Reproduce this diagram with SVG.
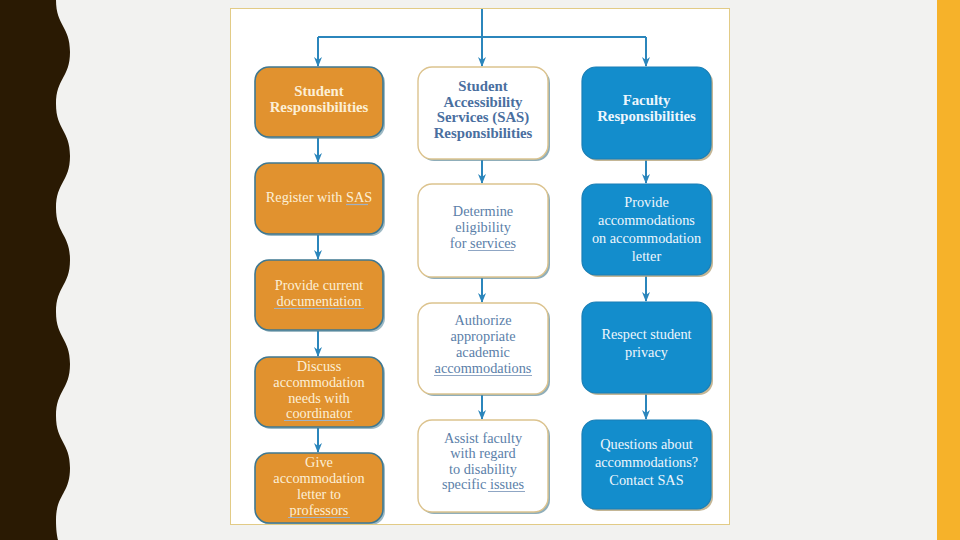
<svg xmlns="http://www.w3.org/2000/svg" width="960" height="540" viewBox="0 0 960 540">
<defs>
<style>
.t{font-family:"Liberation Serif","Times New Roman",serif;font-size:14.3px;text-anchor:middle}
.b{font-weight:bold;font-size:14.8px}
.or{fill:#e1922f;stroke:#3f7891;stroke-width:1.6}
.wh{fill:#ffffff;stroke:#dcc38e;stroke-width:1.4}
.bl{fill:#138dcc;stroke:#1a7fb6;stroke-width:1.2}
.sh1{fill:#4d7f93;opacity:.55}
.sh2{fill:#5f8c9c;opacity:.7}
.sh3{fill:#b5a47a;opacity:.8}
.tor{fill:#fcefd6}
.twh{fill:#5b80a9}
.twt{fill:#4a6f9f}
.tbl{fill:#eef6fc}
.ul{stroke:#9fb2c6;stroke-width:1.2}
.ulw{stroke:#8fa6c4;stroke-width:1.2}
.c{stroke:#2b86bc;stroke-width:2;fill:none}
</style>
<marker id="ah" markerUnits="userSpaceOnUse" markerWidth="10" markerHeight="10" viewBox="0 0 10 10" refX="9" refY="5" orient="auto">
<path d="M0,1 L10,5 L0,9 L3,5 z" fill="#2b86bc"/>
</marker>
<clipPath id="pc"><rect x="230" y="9" width="499" height="515"/></clipPath>
</defs>
<rect width="960" height="540" fill="#f2f2f0"/>
<path d="M0,0 L56,0 C56,26 70,26 70,52 C70,78 56,78 56,104 C56,130 70,130 70,156 C70,182 56,182 56,208 C56,234 70,234 70,260 C70,286 56,286 56,312 C56,338 70,338 70,364 C70,390 56,390 56,416 C56,442 70,442 70,468 C70,494 56,494 56,520 C56,530 57,536 58,540 L0,540 Z" fill="#2a1a03"/>
<rect x="937" y="0" width="23" height="540" fill="#f6b22a"/>
<rect x="230.5" y="8.5" width="499" height="516" fill="#ffffff" stroke="#e2cb86" stroke-width="1"/>
<g clip-path="url(#pc)">
<g id="connectors">
<path class="c" d="M482,9 V37 M318,37 H646"/>
<path class="c" d="M318,37 V66" marker-end="url(#ah)"/>
<path class="c" d="M482,37 V66" marker-end="url(#ah)"/>
<path class="c" d="M646,37 V66" marker-end="url(#ah)"/>
<path class="c" d="M318,138 V162" marker-end="url(#ah)"/>
<path class="c" d="M318,235 V259" marker-end="url(#ah)"/>
<path class="c" d="M318,331 V356" marker-end="url(#ah)"/>
<path class="c" d="M318,428 V452" marker-end="url(#ah)"/>
<path class="c" d="M482,160 V183" marker-end="url(#ah)"/>
<path class="c" d="M482,278 V302" marker-end="url(#ah)"/>
<path class="c" d="M482,395 V419" marker-end="url(#ah)"/>
<path class="c" d="M646,160 V183" marker-end="url(#ah)"/>
<path class="c" d="M646,276 V301" marker-end="url(#ah)"/>
<path class="c" d="M646,394 V419" marker-end="url(#ah)"/>
</g>
<g id="student-title">
<rect class="sh1" x="257" y="69" width="128" height="70" rx="14"/>
<rect class="or" x="255" y="67" width="128" height="70" rx="14"/>
<text class="t b tor" x="319" y="96">Student</text>
<text class="t b tor" x="319" y="112">Responsibilities</text>
</g>
<g id="register">
<rect class="sh1" x="257" y="165" width="128" height="71" rx="14"/>
<rect class="or" x="255" y="163" width="128" height="71" rx="14"/>
<text class="t tor" x="319" y="202">Register with SAS</text>
<line class="ul" x1="346" y1="204.5" x2="368" y2="204.5"/>
</g>
<g id="documentation">
<rect class="sh1" x="257" y="262" width="128" height="70" rx="14"/>
<rect class="or" x="255" y="260" width="128" height="70" rx="14"/>
<text class="t tor" x="319" y="290">Provide current</text>
<text class="t tor" x="319" y="306">documentation</text>
<line class="ul" x1="274" y1="308.5" x2="364" y2="308.5"/>
</g>
<g id="discuss">
<rect class="sh1" x="257" y="359" width="128" height="70" rx="14"/>
<rect class="or" x="255" y="357" width="128" height="70" rx="14"/>
<text class="t tor" x="319" y="371">Discuss</text>
<text class="t tor" x="319" y="387">accommodation</text>
<text class="t tor" x="319" y="403">needs with</text>
<text class="t tor" x="319" y="418">coordinator</text>
<line class="ul" x1="284" y1="420.5" x2="354" y2="420.5"/>
</g>
<g id="give-letter">
<rect class="sh1" x="257" y="455" width="128" height="70" rx="14"/>
<rect class="or" x="255" y="453" width="128" height="70" rx="14"/>
<text class="t tor" x="319" y="467">Give</text>
<text class="t tor" x="319" y="483">accommodation</text>
<text class="t tor" x="319" y="499">letter to</text>
<text class="t tor" x="319" y="515">professors</text>
<line class="ul" x1="288" y1="517.5" x2="350" y2="517.5"/>
</g>
<g id="sas-title">
<rect class="sh2" x="420" y="69" width="130" height="92" rx="14"/>
<rect class="wh" x="418" y="67" width="130" height="92" rx="14"/>
<text class="t b twt" x="483" y="91">Student</text>
<text class="t b twt" x="483" y="107">Accessibility</text>
<text class="t b twt" x="483" y="122">Services (SAS)</text>
<text class="t b twt" x="483" y="138">Responsibilities</text>
</g>
<g id="eligibility">
<rect class="sh2" x="420" y="186" width="130" height="93" rx="14"/>
<rect class="wh" x="418" y="184" width="130" height="93" rx="14"/>
<text class="t twh" x="483" y="216">Determine</text>
<text class="t twh" x="483" y="232">eligibility</text>
<text class="t twh" x="483" y="248">for services</text>
<line class="ulw" x1="468" y1="250.5" x2="514" y2="250.5"/>
</g>
<g id="authorize">
<rect class="sh2" x="420" y="305" width="130" height="91" rx="14"/>
<rect class="wh" x="418" y="303" width="130" height="91" rx="14"/>
<text class="t twh" x="483" y="325">Authorize</text>
<text class="t twh" x="483" y="341">appropriate</text>
<text class="t twh" x="483" y="357">academic</text>
<text class="t twh" x="483" y="373">accommodations</text>
<line class="ulw" x1="434" y1="375.5" x2="532" y2="375.5"/>
</g>
<g id="assist">
<rect class="sh2" x="420" y="422" width="130" height="92" rx="14"/>
<rect class="wh" x="418" y="420" width="130" height="92" rx="14"/>
<text class="t twh" x="483" y="443">Assist faculty</text>
<text class="t twh" x="483" y="458">with regard</text>
<text class="t twh" x="483" y="474">to disability</text>
<text class="t twh" x="483" y="489">specific issues</text>
<line class="ulw" x1="488" y1="491.5" x2="525" y2="491.5"/>
</g>
<g id="faculty-title">
<rect class="sh3" x="584" y="69" width="129" height="92" rx="14"/>
<rect class="bl" x="582" y="67" width="129" height="92" rx="14"/>
<text class="t b tbl" x="646.5" y="105">Faculty</text>
<text class="t b tbl" x="646.5" y="121">Responsibilities</text>
</g>
<g id="provide">
<rect class="sh3" x="584" y="186" width="129" height="91" rx="14"/>
<rect class="bl" x="582" y="184" width="129" height="91" rx="14"/>
<text class="t tbl" x="646.5" y="207">Provide</text>
<text class="t tbl" x="646.5" y="225">accommodations</text>
<text class="t tbl" x="646.5" y="243">on accommodation</text>
<text class="t tbl" x="646.5" y="261">letter</text>
</g>
<g id="privacy">
<rect class="sh3" x="584" y="304" width="129" height="91" rx="14"/>
<rect class="bl" x="582" y="302" width="129" height="91" rx="14"/>
<text class="t tbl" x="646.5" y="339">Respect student</text>
<text class="t tbl" x="646.5" y="357">privacy</text>
</g>
<g id="questions">
<rect class="sh3" x="584" y="422" width="129" height="89" rx="14"/>
<rect class="bl" x="582" y="420" width="129" height="89" rx="14"/>
<text class="t tbl" x="646.5" y="449">Questions about</text>
<text class="t tbl" x="646.5" y="467">accommodations?</text>
<text class="t tbl" x="646.5" y="485">Contact SAS</text>
</g>
</g>
</svg>
